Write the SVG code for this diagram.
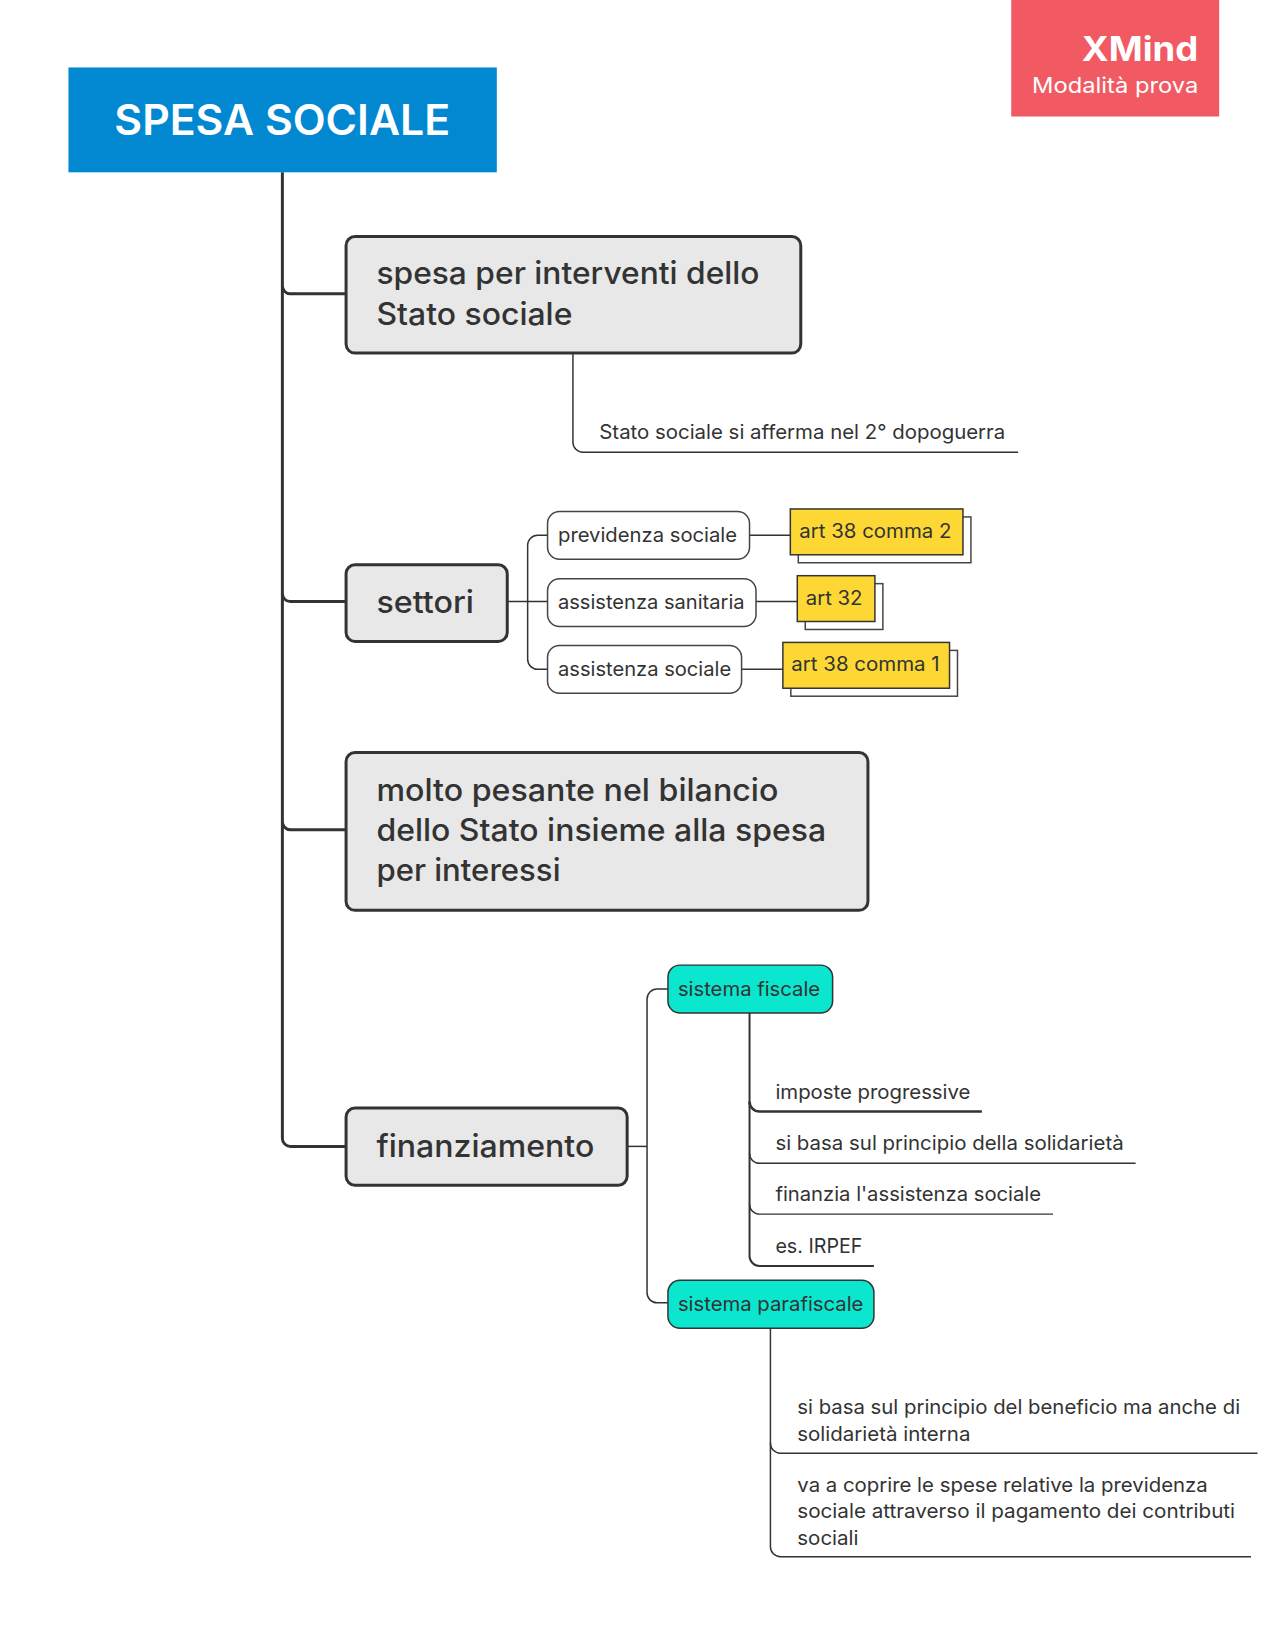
<svg xmlns="http://www.w3.org/2000/svg" width="1280" height="1626" viewBox="0 0 1280 1626">
<style>
text{font-family:"Inter","Open Sans","Liberation Sans",sans-serif;fill:#333;}
.t1{font-size:31px;font-weight:500;}
.t2{font-size:20px;font-weight:400;}
.big{fill:#e8e8e8;stroke:#333;stroke-width:3;}
.white{fill:#fff;stroke:#444;stroke-width:1.5;}
.teal{fill:#0be6cf;stroke:#333;stroke-width:1.5;}
.yel{fill:#fdd835;stroke:#333;stroke-width:1.5;}
.back{fill:#fff;stroke:#444;stroke-width:1.5;}
.c3{fill:none;stroke:#333;stroke-width:3;}
.c2{fill:none;stroke:#333;stroke-width:1.5;}
</style>
<rect width="1280" height="1626" fill="#fff"/>
<g transform="translate(0.3 0) scale(0.995 0.996)">
<g id="connectors">
<path class="c3" d="M283.500 173V1143a8 8 0 0 0 8 8H347"/>
<path class="c3" d="M283.500 287a8 8 0 0 0 8 8H347"/>
<path class="c3" d="M283.500 596a8 8 0 0 0 8 8H347"/>
<path class="c3" d="M283.500 825a8 8 0 0 0 8 8H347"/>
<path class="c2" d="M575.500 355V444a10 10 0 0 0 10 10H1023"/>
<path class="c2" d="M509 604H550"/>
<path class="c2" d="M550 537.500H540a10 10 0 0 0 -10 10V662a10 10 0 0 0 10 10H550"/>
<path class="c2" d="M753 537.500H794"/>
<path class="c2" d="M759.500 604H801"/>
<path class="c2" d="M745 672H786.500"/>
<path class="c2" d="M630 1151H650"/>
<path class="c2" d="M671 993H660a10 10 0 0 0 -10 10V1298a10 10 0 0 0 10 10H671"/>
<path class="c2" style="stroke-width:2" d="M753 1017V1261a10 10 0 0 0 10 10H878"/>
<path class="c2" style="stroke-width:2.500" d="M753 1106a10 10 0 0 0 10 10H986.500"/>
<path class="c2" d="M753 1158a10 10 0 0 0 10 10H1141"/>
<path class="c2" d="M753 1209a10 10 0 0 0 10 10H1058"/>
<path class="c2" d="M774 1333V1553a10 10 0 0 0 10 10H1257"/>
<path class="c2" d="M774 1449a10 10 0 0 0 10 10H1263.500"/>
</g>
<g id="root">
<rect x="68.500" y="67.700" width="430.500" height="105.300" fill="#0288d1"/>
<text x="114.600" y="136" font-size="42" font-weight="600" style="fill:#fff" textLength="337.500" lengthAdjust="spacingAndGlyphs">SPESA SOCIALE</text>
</g>
<g id="watermark">
<rect x="1016" y="0" width="209" height="117" fill="#f25a63"/>
<text x="1087" y="61" font-size="34" font-weight="700" style="fill:#fff" textLength="117" lengthAdjust="spacingAndGlyphs">XMind</text>
<text x="1037" y="93" font-size="22" style="fill:#fff" textLength="167" lengthAdjust="spacingAndGlyphs">Modalità prova</text>
</g>
<g id="n-spesa">
<rect class="big" x="347.500" y="237.500" width="457" height="117" rx="9"/>
<text class="t1" x="378" y="285" textLength="385" lengthAdjust="spacingAndGlyphs">spesa per interventi dello</text>
<text class="t1" x="378" y="326" textLength="197" lengthAdjust="spacingAndGlyphs">Stato sociale</text>
</g>
<g id="n-stato">
<text class="t2" x="602" y="441" textLength="408" lengthAdjust="spacingAndGlyphs">Stato sociale si afferma nel 2° dopoguerra</text>
</g>
<g id="n-settori">
<rect class="big" x="347.500" y="567" width="162" height="77" rx="9"/>
<text class="t1" x="378" y="615" textLength="98" lengthAdjust="spacingAndGlyphs">settori</text>
</g>
<g id="n-previdenza">
<rect class="white" x="550" y="513.500" width="203" height="48" rx="12"/>
<text class="t2" x="560.500" y="544" textLength="180" lengthAdjust="spacingAndGlyphs">previdenza sociale</text>
</g>
<g id="n-sanitaria">
<rect class="white" x="550" y="581" width="209.500" height="48" rx="12"/>
<text class="t2" x="560.500" y="611" textLength="187.500" lengthAdjust="spacingAndGlyphs">assistenza sanitaria</text>
</g>
<g id="n-assistenza">
<rect class="white" x="550" y="648" width="195" height="48" rx="12"/>
<text class="t2" x="560.500" y="679" textLength="174" lengthAdjust="spacingAndGlyphs">assistenza sociale</text>
</g>
<g id="n-art382">
<rect class="back" x="802" y="519" width="173.500" height="46"/>
<rect class="yel" x="794" y="511" width="173.500" height="46"/>
<text class="t2" x="803" y="540" textLength="153" lengthAdjust="spacingAndGlyphs">art 38 comma 2</text>
</g>
<g id="n-art32">
<rect class="back" x="809" y="586" width="78" height="46"/>
<rect class="yel" x="801" y="578" width="78" height="46"/>
<text class="t2" x="809.500" y="607" textLength="57" lengthAdjust="spacingAndGlyphs">art 32</text>
</g>
<g id="n-art381">
<rect class="back" x="794.500" y="653" width="167.500" height="46"/>
<rect class="yel" x="786.500" y="645" width="167.500" height="46"/>
<text class="t2" x="795" y="674" textLength="149" lengthAdjust="spacingAndGlyphs">art 38 comma 1</text>
</g>
<g id="n-molto">
<rect class="big" x="347.500" y="755.500" width="524.500" height="158.500" rx="9"/>
<text class="t1" x="378" y="804" textLength="404" lengthAdjust="spacingAndGlyphs">molto pesante nel bilancio</text>
<text class="t1" x="378" y="844.500" textLength="452" lengthAdjust="spacingAndGlyphs">dello Stato insieme alla spesa</text>
<text class="t1" x="378" y="885" textLength="185" lengthAdjust="spacingAndGlyphs">per interessi</text>
</g>
<g id="n-finanziamento">
<rect class="big" x="347.500" y="1112.500" width="282.500" height="77.500" rx="9"/>
<text class="t1" x="378" y="1162" textLength="219" lengthAdjust="spacingAndGlyphs">finanziamento</text>
</g>
<g id="n-fiscale">
<rect class="teal" x="671" y="969" width="165.500" height="48" rx="12"/>
<text class="t2" x="681" y="1000" textLength="143" lengthAdjust="spacingAndGlyphs">sistema fiscale</text>
</g>
<g id="n-imposte"><text class="t2" x="779" y="1103" textLength="196" lengthAdjust="spacingAndGlyphs">imposte progressive</text></g>
<g id="n-solid"><text class="t2" x="779" y="1154.500" textLength="350" lengthAdjust="spacingAndGlyphs">si basa sul principio della solidarietà</text></g>
<g id="n-fin"><text class="t2" x="779" y="1206" textLength="267" lengthAdjust="spacingAndGlyphs">finanzia l'assistenza sociale</text></g>
<g id="n-irpef"><text class="t2" x="779" y="1258" textLength="87.500" lengthAdjust="spacingAndGlyphs">es. IRPEF</text></g>
<g id="n-parafiscale">
<rect class="teal" x="671" y="1285.500" width="207" height="48" rx="12"/>
<text class="t2" x="681" y="1316.500" textLength="186.500" lengthAdjust="spacingAndGlyphs">sistema parafiscale</text>
</g>
<g id="n-beneficio">
<text class="t2" x="801" y="1419.500" textLength="445" lengthAdjust="spacingAndGlyphs">si basa sul principio del beneficio ma anche di</text>
<text class="t2" x="801" y="1446.500" textLength="174" lengthAdjust="spacingAndGlyphs">solidarietà interna</text>
</g>
<g id="n-copre">
<text class="t2" x="801" y="1498" textLength="412.500" lengthAdjust="spacingAndGlyphs">va a coprire le spese relative la previdenza</text>
<text class="t2" x="801" y="1524.500" textLength="440" lengthAdjust="spacingAndGlyphs">sociale attraverso il pagamento dei contributi</text>
<text class="t2" x="801" y="1551.500" textLength="61.500" lengthAdjust="spacingAndGlyphs">sociali</text>
</g>
</g>
</svg>
